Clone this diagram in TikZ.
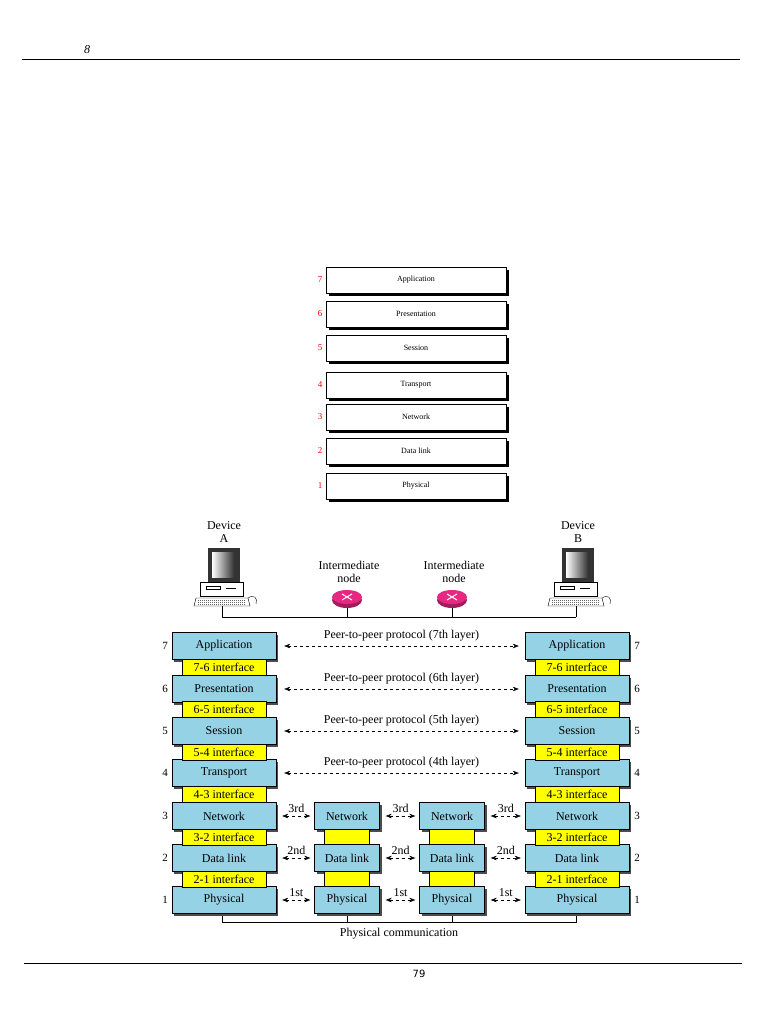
\documentclass[tikz,border=0pt]{standalone}
\usepackage{fontspec}
\setmainfont{Liberation Serif}
\newfontfamily\dv{DejaVu Sans}
\usetikzlibrary{arrows.meta,shadows}
\definecolor{lblue}{RGB}{150,210,230}
\definecolor{lyel}{RGB}{255,255,0}
\definecolor{rpink}{RGB}{230,40,130}
\begin{document}
\begin{tikzpicture}[x=1pt,y=-1pt,
 topbox/.style={draw,fill=white,minimum width=180pt,minimum height=26pt,inner sep=0pt,font=\fontsize{8}{9}\selectfont,drop shadow={shadow xshift=3pt,shadow yshift=-3pt,fill=black,opacity=1}},
 lay/.style={draw,fill=lblue,minimum height=27pt,inner sep=0pt,font=\fontsize{12}{13}\selectfont,drop shadow={shadow xshift=2pt,shadow yshift=-2pt,fill=black!70,opacity=1}},
 big/.style={lay,minimum width=104pt},
 mid/.style={lay,minimum width=65pt},
 itf/.style={draw,fill=lyel,minimum height=16pt,inner sep=0pt,font=\fontsize{12}{13}\selectfont},
 num/.style={font=\fontsize{11}{12}\selectfont},
 rnum/.style={font=\fontsize{9}{10}\selectfont,text=red},
 peer/.style={dashed,{Stealth[length=6pt]}-{Stealth[length=6pt]}},
 lbl/.style={font=\fontsize{12}{13}\selectfont}]
\useasboundingbox (0,0) rectangle (768,1024);
% header/footer
\draw[line width=0.6pt] (22,59) -- (740,59);
\node[font=\itshape\fontsize{12}{13}\selectfont] (pg) at (87,50) {8};
\draw[line width=0.6pt] (24,963) -- (742,963);
\node[font=\dv\fontsize{10}{11}\selectfont] (pn) at (419,974) {79};
% top stack
\foreach \n/\t/\y in {7/Application/280,6/Presentation/314,5/Session/348,4/Transport/385,3/Network/417,2/Data link/451,1/Physical/486}{
 \node[topbox] (t\n) at (416,\y) {\t};
 \node[rnum] (tn\n) at (320,\y) {\n};
}
% computers
\foreach \nm/\cx/\lab in {A/222/A,B/576/B}{
 \fill[black!80] (\cx-14,548) rectangle (\cx+18,582);
 \shade[left color=white,right color=black!80] (\cx-10,552) rectangle (\cx+12,577);
 \draw[fill=white] (\cx-22,582) rectangle (\cx+21,596);
 \draw (\cx-16,586) rectangle (\cx-2,589);
 \draw[line width=1pt] (\cx+4,588) -- (\cx+14,588);
 \draw[fill=white] (\cx-26,598) -- (\cx+26,598) -- (\cx+28,606) -- (\cx-28,606) -- cycle;
 \foreach \k in {600,602,604}{\draw[black!60,dash pattern=on 1pt off 1pt] (\cx-24,\k) -- (\cx+24,\k);}
 \draw (\cx+26,598) .. controls (\cx+32,594) and (\cx+36,598) .. (\cx+34,604);
 \coordinate (c\nm) at (\cx,606);
 \node[lbl,align=center,inner sep=0pt] (d\nm) at (\cx+2,532) {Device\\\lab};
}
\foreach \i/\cx in {1/347,2/452}{
 \fill[rpink!70!black] (\cx,600) ellipse (15pt and 8pt);
 \fill[rpink] (\cx,597) ellipse (15pt and 7pt);
 \draw[white,line width=1pt] (\cx-5,594) -- (\cx+5,600) (\cx-5,600) -- (\cx+5,594);
 \coordinate (r\i) at (\cx,608);
 \node[lbl,align=center,inner sep=0pt] (in\i) at (\cx+2,572) {Intermediate\\node};
}
\draw (cA) |- (576,617) coordinate (cc);
\draw (cB) -- (cc);
\draw (r1) -- (347,617);
\draw (r2) -- (452,617);
% layers
\foreach \n/\t/\y in {7/Application/646,6/Presentation/689,5/Session/731,4/Transport/773,3/Network/816,2/Data link/858,1/Physical/900}{
 \node[big] (L\n) at (224,\y) {\t};
 \node[big] (R\n) at (577,\y) {\t};
 \node[num] (ln\n) at (165,\y) {\n};
 \node[num] (rn\n) at (637,\y) {\n};
}
\foreach \n/\t/\y in {3/Network/816,2/Data link/858,1/Physical/900}{
 \node[mid] (M\n) at (347,\y) {\t};
 \node[mid] (N\n) at (452,\y) {\t};
}
\foreach \a/\b/\t/\y in {7/6/7-6/667,6/5/6-5/709,5/4/5-4/752,4/3/4-3/794,3/2/3-2/837,2/1/2-1/879}{
 \node[itf,minimum width=84pt] (li\a) at (224,\y) {\t{} interface};
 \node[itf,minimum width=84pt] (ri\a) at (577,\y) {\t{} interface};
}
\foreach \a/\y in {3/837,2/879}{
 \node[itf,minimum width=45pt,minimum height=15pt] (mi\a) at (347,\y) {};
 \node[itf,minimum width=45pt,minimum height=15pt] (ni\a) at (452,\y) {};
}
\foreach \n/\o in {7/7th,6/6th,5/5th,4/4th}{
 \draw[peer] ([xshift=8pt]L\n.east) -- node[lbl,above=1pt] {Peer-to-peer protocol (\o{} layer)} ([xshift=-6pt]R\n.west);
}
\foreach \n/\o in {3/3rd,2/2nd,1/1st}{
 \draw[peer] ([xshift=6pt]L\n.east) -- node[lbl,above=0pt] {\o} ([xshift=-4pt]M\n.west);
 \draw[peer] ([xshift=6pt]M\n.east) -- node[lbl,above=0pt] {\o} ([xshift=-4pt]N\n.west);
 \draw[peer] ([xshift=6pt]N\n.east) -- node[lbl,above=0pt] {\o} ([xshift=-4pt]R\n.west);
}
\draw (222,916) |- (576,922) -- (576,916);
\draw (347,916) -- (347,922) (452,916) -- (452,922);
\node[lbl] (pc) at (399,934) {Physical communication};
\end{tikzpicture}
\end{document}
